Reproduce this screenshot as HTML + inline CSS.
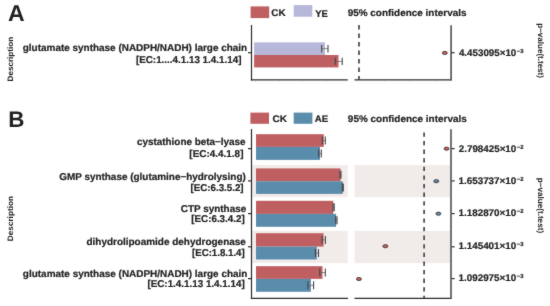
<!DOCTYPE html>
<html><head><meta charset="utf-8"><style>
html,body{margin:0;padding:0;background:#fff;}
svg{display:block;}
</style></head><body>
<svg width="550" height="306" viewBox="0 0 550 306" font-family="'Liberation Sans', Arial, sans-serif" font-weight="bold" fill="#222222" text-rendering="geometricPrecision">
<defs><filter id="soft" x="0" y="0" width="550" height="306" filterUnits="userSpaceOnUse" color-interpolation-filters="sRGB"><feConvolveMatrix order="3" kernelMatrix="0.02 0.06 0.02 0.06 0.68 0.06 0.02 0.06 0.02" divisor="1" edgeMode="duplicate"/></filter></defs>
<g filter="url(#soft)">
<rect width="550" height="306" fill="#fff"/>
<text x="7.92" y="20.70" font-size="23.0" textLength="16.68" lengthAdjust="spacingAndGlyphs" stroke="#222222" stroke-width="0.0" >A</text>
<rect x="250.60" y="6.40" width="18.60" height="11.70" fill="#BF5F61"/>
<text x="271.39" y="15.90" font-size="9.8" textLength="14.30" lengthAdjust="spacingAndGlyphs" stroke="#222222" stroke-width="0.2" >CK</text>
<rect x="293.70" y="5.10" width="18.60" height="11.60" fill="#B7B7D9"/>
<text x="315.24" y="16.50" font-size="9.8" textLength="12.74" lengthAdjust="spacingAndGlyphs" stroke="#222222" stroke-width="0.2" >YE</text>
<text x="347.66" y="16.10" font-size="9.7" textLength="118.85" lengthAdjust="spacingAndGlyphs" stroke="#222222" stroke-width="0.2" >95% confidence intervals</text>
<text transform="translate(12.90,81.44) rotate(-90)" font-size="7.9" textLength="44.54" lengthAdjust="spacingAndGlyphs" stroke="#222222" stroke-width="0.0">Description</text>
<text transform="translate(538.40,23.27) rotate(90)" font-size="8.2" textLength="54.63" lengthAdjust="spacingAndGlyphs" stroke="#222222" stroke-width="0.0">p−value(t.test)</text>
<text x="22.79" y="50.90" font-size="9.9" textLength="224.42" lengthAdjust="spacingAndGlyphs" stroke="#222222" stroke-width="0.2" >glutamate synthase (NADPH/NADH) large chain</text>
<text x="135.95" y="63.00" font-size="9.9" textLength="105.50" lengthAdjust="spacingAndGlyphs" stroke="#222222" stroke-width="0.2" >[EC:1....4.1.13 1.4.1.14]</text>
<line x1="251.50" y1="25.00" x2="251.50" y2="80.50" stroke="#2b2b2b" stroke-width="1.2" />
<line x1="250.90" y1="79.90" x2="347.80" y2="79.90" stroke="#2b2b2b" stroke-width="1.2" />
<line x1="248.00" y1="52.70" x2="251.50" y2="52.70" stroke="#2b2b2b" stroke-width="1.2" />
<line x1="255.60" y1="80.40" x2="255.60" y2="81.60" stroke="#aaa" stroke-width="0.8" />
<line x1="279.40" y1="80.40" x2="279.40" y2="81.60" stroke="#aaa" stroke-width="0.8" />
<line x1="302.50" y1="80.40" x2="302.50" y2="81.60" stroke="#aaa" stroke-width="0.8" />
<line x1="326.00" y1="80.40" x2="326.00" y2="81.60" stroke="#aaa" stroke-width="0.8" />
<rect x="254.10" y="42.40" width="70.90" height="12.60" fill="#B7B7D9"/>
<rect x="254.10" y="55.00" width="84.40" height="12.40" fill="#BF5F61"/>
<line x1="321.70" y1="48.70" x2="328.00" y2="48.70" stroke="#6a6a6a" stroke-width="0.8" />
<line x1="321.70" y1="45.00" x2="321.70" y2="52.40" stroke="#444" stroke-width="1.1" />
<line x1="328.00" y1="45.00" x2="328.00" y2="52.40" stroke="#444" stroke-width="1.1" />
<line x1="335.30" y1="61.40" x2="342.20" y2="61.40" stroke="#6a6a6a" stroke-width="0.8" />
<line x1="335.30" y1="57.70" x2="335.30" y2="65.10" stroke="#444" stroke-width="1.1" />
<line x1="342.20" y1="57.70" x2="342.20" y2="65.10" stroke="#444" stroke-width="1.1" />
<line x1="354.50" y1="79.90" x2="451.60" y2="79.90" stroke="#2b2b2b" stroke-width="1.2" />
<line x1="451.10" y1="25.30" x2="451.10" y2="80.50" stroke="#5a5a5a" stroke-width="1.7" />
<line x1="359.00" y1="25.00" x2="359.00" y2="79.90" stroke="#484848" stroke-width="1.7" stroke-dasharray="4.5 4"/>
<line x1="451.50" y1="52.70" x2="454.60" y2="52.70" stroke="#2b2b2b" stroke-width="1.2" />
<line x1="384.40" y1="80.40" x2="384.40" y2="81.60" stroke="#aaa" stroke-width="0.8" />
<line x1="409.40" y1="80.40" x2="409.40" y2="81.60" stroke="#aaa" stroke-width="0.8" />
<line x1="435.00" y1="80.40" x2="435.00" y2="81.60" stroke="#aaa" stroke-width="0.8" />
<ellipse cx="444.80" cy="52.90" rx="2.5" ry="1.6" fill="#BF5F61" stroke="#3b2b2b" stroke-width="0.8"/>
<text x="458.95" y="55.90" font-size="9.6" textLength="57.35" lengthAdjust="spacingAndGlyphs" stroke="#222222" stroke-width="0.2" >4.453095×10</text>
<text x="516.86" y="52.90" font-size="5.8" textLength="6.65" lengthAdjust="spacingAndGlyphs" stroke="#222222" stroke-width="0.2" >−3</text>
<text x="8.20" y="126.50" font-size="22.6" textLength="16.22" lengthAdjust="spacingAndGlyphs" stroke="#222222" stroke-width="0.0" >B</text>
<rect x="250.40" y="112.60" width="18.60" height="11.20" fill="#BF5F61"/>
<text x="272.49" y="121.90" font-size="9.6" textLength="14.51" lengthAdjust="spacingAndGlyphs" stroke="#222222" stroke-width="0.2" >CK</text>
<rect x="293.70" y="112.60" width="18.70" height="11.20" fill="#5A8CAB"/>
<text x="314.86" y="121.90" font-size="9.6" textLength="13.42" lengthAdjust="spacingAndGlyphs" stroke="#222222" stroke-width="0.2" >AE</text>
<text x="347.85" y="121.90" font-size="9.7" textLength="118.95" lengthAdjust="spacingAndGlyphs" stroke="#222222" stroke-width="0.2" >95% confidence intervals</text>
<text transform="translate(13.30,241.15) rotate(-90)" font-size="7.9" textLength="45.06" lengthAdjust="spacingAndGlyphs" stroke="#222222" stroke-width="0.0">Description</text>
<text transform="translate(538.40,177.66) rotate(90)" font-size="8.2" textLength="55.44" lengthAdjust="spacingAndGlyphs" stroke="#222222" stroke-width="0.0">p−value(t.test)</text>
<rect x="252.10" y="165.00" width="95.60" height="32.20" fill="#F1ECEA"/>
<rect x="354.50" y="165.00" width="95.80" height="32.20" fill="#F1ECEA"/>
<rect x="252.10" y="230.90" width="95.60" height="32.20" fill="#F1ECEA"/>
<rect x="354.50" y="230.90" width="95.80" height="32.20" fill="#F1ECEA"/>
<text x="136.91" y="145.00" font-size="9.9" textLength="108.73" lengthAdjust="spacingAndGlyphs" stroke="#222222" stroke-width="0.2" >cystathione beta−lyase</text>
<text x="189.34" y="156.50" font-size="9.9" textLength="54.12" lengthAdjust="spacingAndGlyphs" stroke="#222222" stroke-width="0.2" >[EC:4.4.1.8]</text>
<line x1="248.00" y1="148.60" x2="251.50" y2="148.60" stroke="#2b2b2b" stroke-width="1.2" />
<rect x="256.00" y="134.20" width="67.80" height="12.70" fill="#BF5F61"/>
<rect x="256.00" y="146.90" width="64.00" height="13.00" fill="#5A8CAB"/>
<line x1="322.30" y1="140.55" x2="325.30" y2="140.55" stroke="#6a6a6a" stroke-width="0.8" />
<line x1="322.30" y1="136.55" x2="322.30" y2="144.55" stroke="#444" stroke-width="1.1" />
<line x1="325.30" y1="136.55" x2="325.30" y2="144.55" stroke="#444" stroke-width="1.1" />
<line x1="318.70" y1="153.40" x2="321.30" y2="153.40" stroke="#6a6a6a" stroke-width="0.8" />
<line x1="318.70" y1="149.40" x2="318.70" y2="157.40" stroke="#444" stroke-width="1.1" />
<line x1="321.30" y1="149.40" x2="321.30" y2="157.40" stroke="#444" stroke-width="1.1" />
<ellipse cx="446.50" cy="148.70" rx="2.5" ry="1.6" fill="#BF5F61" stroke="#3b2b2b" stroke-width="0.8"/>
<line x1="451.50" y1="148.60" x2="454.60" y2="148.60" stroke="#2b2b2b" stroke-width="1.2" />
<text x="458.76" y="151.60" font-size="9.6" textLength="57.54" lengthAdjust="spacingAndGlyphs" stroke="#222222" stroke-width="0.2" >2.798425×10</text>
<text x="516.86" y="148.60" font-size="5.8" textLength="6.68" lengthAdjust="spacingAndGlyphs" stroke="#222222" stroke-width="0.2" >−2</text>
<text x="59.19" y="179.90" font-size="9.9" textLength="186.60" lengthAdjust="spacingAndGlyphs" stroke="#222222" stroke-width="0.2" >GMP synthase (glutamine−hydrolysing)</text>
<text x="190.45" y="191.10" font-size="9.9" textLength="53.20" lengthAdjust="spacingAndGlyphs" stroke="#222222" stroke-width="0.2" >[EC:6.3.5.2]</text>
<line x1="248.00" y1="180.90" x2="251.50" y2="180.90" stroke="#2b2b2b" stroke-width="1.2" />
<rect x="256.00" y="168.40" width="84.50" height="12.90" fill="#BF5F61"/>
<rect x="256.00" y="181.30" width="86.80" height="12.60" fill="#5A8CAB"/>
<line x1="340.00" y1="174.85" x2="341.00" y2="174.85" stroke="#6a6a6a" stroke-width="0.8" />
<line x1="340.00" y1="170.85" x2="340.00" y2="178.85" stroke="#444" stroke-width="1.1" />
<line x1="341.00" y1="170.85" x2="341.00" y2="178.85" stroke="#444" stroke-width="1.1" />
<line x1="342.30" y1="187.60" x2="343.30" y2="187.60" stroke="#6a6a6a" stroke-width="0.8" />
<line x1="342.30" y1="183.60" x2="342.30" y2="191.60" stroke="#444" stroke-width="1.1" />
<line x1="343.30" y1="183.60" x2="343.30" y2="191.60" stroke="#444" stroke-width="1.1" />
<ellipse cx="436.30" cy="181.20" rx="2.5" ry="1.6" fill="#5A8CAB" stroke="#3b2b2b" stroke-width="0.8"/>
<line x1="451.50" y1="180.90" x2="454.60" y2="180.90" stroke="#2b2b2b" stroke-width="1.2" />
<text x="458.48" y="183.80" font-size="9.6" textLength="57.83" lengthAdjust="spacingAndGlyphs" stroke="#222222" stroke-width="0.2" >1.653737×10</text>
<text x="516.86" y="180.80" font-size="5.8" textLength="6.68" lengthAdjust="spacingAndGlyphs" stroke="#222222" stroke-width="0.2" >−2</text>
<text x="180.79" y="211.50" font-size="9.9" textLength="65.44" lengthAdjust="spacingAndGlyphs" stroke="#222222" stroke-width="0.2" >CTP synthase</text>
<text x="191.25" y="221.70" font-size="9.9" textLength="53.50" lengthAdjust="spacingAndGlyphs" stroke="#222222" stroke-width="0.2" >[EC:6.3.4.2]</text>
<line x1="248.00" y1="213.60" x2="251.50" y2="213.60" stroke="#2b2b2b" stroke-width="1.2" />
<rect x="256.00" y="200.80" width="77.30" height="13.10" fill="#BF5F61"/>
<rect x="256.00" y="213.90" width="80.10" height="12.90" fill="#5A8CAB"/>
<line x1="333.00" y1="207.35" x2="334.20" y2="207.35" stroke="#6a6a6a" stroke-width="0.8" />
<line x1="333.00" y1="203.35" x2="333.00" y2="211.35" stroke="#444" stroke-width="1.1" />
<line x1="334.20" y1="203.35" x2="334.20" y2="211.35" stroke="#444" stroke-width="1.1" />
<line x1="335.70" y1="220.35" x2="337.00" y2="220.35" stroke="#6a6a6a" stroke-width="0.8" />
<line x1="335.70" y1="216.35" x2="335.70" y2="224.35" stroke="#444" stroke-width="1.1" />
<line x1="337.00" y1="216.35" x2="337.00" y2="224.35" stroke="#444" stroke-width="1.1" />
<ellipse cx="438.40" cy="213.70" rx="2.5" ry="1.6" fill="#5A8CAB" stroke="#3b2b2b" stroke-width="0.8"/>
<line x1="451.50" y1="213.60" x2="454.60" y2="213.60" stroke="#2b2b2b" stroke-width="1.2" />
<text x="458.48" y="216.00" font-size="9.6" textLength="57.83" lengthAdjust="spacingAndGlyphs" stroke="#222222" stroke-width="0.2" >1.182870×10</text>
<text x="516.86" y="213.00" font-size="5.8" textLength="6.68" lengthAdjust="spacingAndGlyphs" stroke="#222222" stroke-width="0.2" >−2</text>
<text x="86.49" y="245.00" font-size="9.9" textLength="159.35" lengthAdjust="spacingAndGlyphs" stroke="#222222" stroke-width="0.2" >dihydrolipoamide dehydrogenase</text>
<text x="191.96" y="256.00" font-size="9.9" textLength="52.79" lengthAdjust="spacingAndGlyphs" stroke="#222222" stroke-width="0.2" >[EC:1.8.1.4]</text>
<line x1="248.00" y1="246.80" x2="251.50" y2="246.80" stroke="#2b2b2b" stroke-width="1.2" />
<rect x="256.00" y="233.20" width="67.60" height="13.40" fill="#BF5F61"/>
<rect x="256.00" y="246.60" width="60.80" height="12.90" fill="#5A8CAB"/>
<line x1="322.00" y1="239.90" x2="325.40" y2="239.90" stroke="#6a6a6a" stroke-width="0.8" />
<line x1="322.00" y1="235.90" x2="322.00" y2="243.90" stroke="#444" stroke-width="1.1" />
<line x1="325.40" y1="235.90" x2="325.40" y2="243.90" stroke="#444" stroke-width="1.1" />
<line x1="315.40" y1="253.05" x2="318.50" y2="253.05" stroke="#6a6a6a" stroke-width="0.8" />
<line x1="315.40" y1="249.05" x2="315.40" y2="257.05" stroke="#444" stroke-width="1.1" />
<line x1="318.50" y1="249.05" x2="318.50" y2="257.05" stroke="#444" stroke-width="1.1" />
<ellipse cx="385.40" cy="246.20" rx="2.5" ry="1.6" fill="#BF5F61" stroke="#3b2b2b" stroke-width="0.8"/>
<line x1="451.50" y1="246.80" x2="454.60" y2="246.80" stroke="#2b2b2b" stroke-width="1.2" />
<text x="458.48" y="248.80" font-size="9.6" textLength="57.83" lengthAdjust="spacingAndGlyphs" stroke="#222222" stroke-width="0.2" >1.145401×10</text>
<text x="516.86" y="245.80" font-size="5.8" textLength="6.65" lengthAdjust="spacingAndGlyphs" stroke="#222222" stroke-width="0.2" >−3</text>
<text x="22.89" y="277.30" font-size="9.9" textLength="224.53" lengthAdjust="spacingAndGlyphs" stroke="#222222" stroke-width="0.2" >glutamate synthase (NADPH/NADH) large chain</text>
<text x="147.45" y="287.30" font-size="9.9" textLength="97.30" lengthAdjust="spacingAndGlyphs" stroke="#222222" stroke-width="0.2" >[EC:1.4.1.13 1.4.1.14]</text>
<line x1="248.00" y1="278.60" x2="251.50" y2="278.60" stroke="#2b2b2b" stroke-width="1.2" />
<rect x="256.00" y="266.20" width="66.50" height="12.70" fill="#BF5F61"/>
<rect x="256.00" y="278.90" width="54.90" height="12.90" fill="#5A8CAB"/>
<line x1="319.80" y1="272.55" x2="325.30" y2="272.55" stroke="#6a6a6a" stroke-width="0.8" />
<line x1="319.80" y1="268.55" x2="319.80" y2="276.55" stroke="#444" stroke-width="1.1" />
<line x1="325.30" y1="268.55" x2="325.30" y2="276.55" stroke="#444" stroke-width="1.1" />
<line x1="308.00" y1="285.35" x2="313.60" y2="285.35" stroke="#6a6a6a" stroke-width="0.8" />
<line x1="308.00" y1="281.35" x2="308.00" y2="289.35" stroke="#444" stroke-width="1.1" />
<line x1="313.60" y1="281.35" x2="313.60" y2="289.35" stroke="#444" stroke-width="1.1" />
<ellipse cx="358.90" cy="279.00" rx="2.5" ry="1.6" fill="#BF5F61" stroke="#3b2b2b" stroke-width="0.8"/>
<line x1="451.50" y1="278.60" x2="454.60" y2="278.60" stroke="#2b2b2b" stroke-width="1.2" />
<text x="458.48" y="281.30" font-size="9.6" textLength="57.83" lengthAdjust="spacingAndGlyphs" stroke="#222222" stroke-width="0.2" >1.092975×10</text>
<text x="516.86" y="278.30" font-size="5.8" textLength="6.65" lengthAdjust="spacingAndGlyphs" stroke="#222222" stroke-width="0.2" >−3</text>
<line x1="251.50" y1="129.00" x2="251.50" y2="298.90" stroke="#2b2b2b" stroke-width="1.2" />
<line x1="250.90" y1="298.30" x2="348.00" y2="298.30" stroke="#2b2b2b" stroke-width="1.2" />
<line x1="354.50" y1="298.30" x2="451.60" y2="298.30" stroke="#2b2b2b" stroke-width="1.2" />
<line x1="451.00" y1="129.30" x2="451.00" y2="298.90" stroke="#5a5a5a" stroke-width="1.7" />
<line x1="424.10" y1="132.40" x2="424.10" y2="298.30" stroke="#484848" stroke-width="1.7" stroke-dasharray="4.3 4.3"/>
</g>
</svg>
</body></html>
